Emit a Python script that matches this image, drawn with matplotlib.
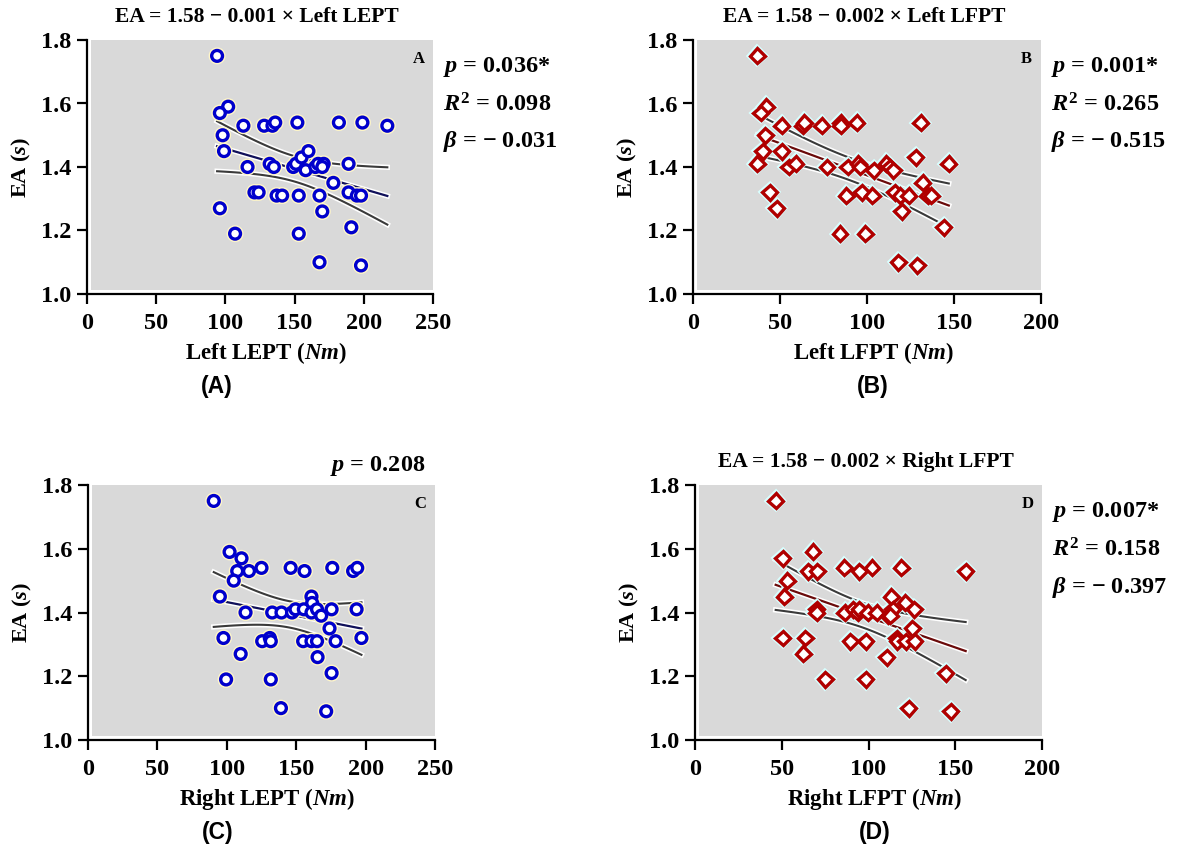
import numpy as np
import matplotlib
matplotlib.use('Agg')
import matplotlib.pyplot as plt
import matplotlib.patheffects as pe
from matplotlib.patches import Rectangle

# ---------------- data ----------------
left_lept = [94, 102, 96, 113, 128, 134, 136, 152, 182, 199, 217, 98, 99, 116, 132, 135,
             149, 151, 155, 160, 158, 165, 167, 171, 170, 189, 178, 121, 124, 137, 141,
             153, 168, 189, 195, 198, 96, 170, 107, 153, 191, 168, 198]
ea_a = [1.75, 1.59, 1.57, 1.53, 1.53, 1.53, 1.54, 1.54, 1.54, 1.54, 1.53, 1.50, 1.45, 1.40,
        1.41, 1.40, 1.40, 1.41, 1.43, 1.45, 1.39, 1.40, 1.41, 1.41, 1.40, 1.41, 1.35, 1.32,
        1.32, 1.31, 1.31, 1.31, 1.31, 1.32, 1.31, 1.31, 1.27, 1.26, 1.19, 1.19, 1.21, 1.10, 1.09]

left_lfpt = [37, 42, 39, 51, 63, 64, 74, 85, 85, 94, 131, 41.5, 40, 51, 37, 55, 59, 77, 89,
             95, 96, 104, 111, 113, 115, 128, 147, 132, 44, 88, 97, 103, 116, 119, 124, 135,
             137, 48, 120, 84.5, 99, 144, 118, 129]
ea_b = [1.75, 1.59, 1.57, 1.53, 1.53, 1.54, 1.53, 1.54, 1.53, 1.54, 1.54, 1.50, 1.45, 1.45,
        1.41, 1.40, 1.41, 1.40, 1.40, 1.41, 1.40, 1.39, 1.41, 1.40, 1.39, 1.43, 1.41, 1.35,
        1.32, 1.31, 1.32, 1.31, 1.32, 1.31, 1.31, 1.31, 1.31, 1.27, 1.26, 1.19, 1.19, 1.21,
        1.10, 1.09]

right_lept = [90.6, 102, 110.6, 107.5, 116, 125, 146, 156, 176, 191, 194, 105, 95, 113.5,
              132.7, 139.4, 147, 149.5, 155.5, 161, 161.5, 161, 165, 168, 175.5, 193.5, 174,
              97.6, 125.5, 131, 131.7, 155, 161, 165, 178.4, 197, 110, 165.4, 99.5, 131.7,
              175.5, 139, 171.6]
ea_c = [1.75, 1.59, 1.57, 1.53, 1.53, 1.54, 1.54, 1.53, 1.54, 1.53, 1.54, 1.50, 1.45, 1.40,
        1.40, 1.40, 1.40, 1.41, 1.41, 1.45, 1.43, 1.40, 1.41, 1.39, 1.41, 1.41, 1.35, 1.32,
        1.31, 1.32, 1.31, 1.31, 1.31, 1.31, 1.31, 1.32, 1.27, 1.26, 1.19, 1.19, 1.21, 1.10,
        1.09]

right_lfpt = [46.5, 68, 50.6, 65.4, 70.6, 86, 94.6, 102, 119, 156, 53.3, 51.5, 113, 121.3,
              70.2, 70.2, 86.2, 91.3, 93.7, 94.8, 99.6, 104.8, 114, 111.3, 112.5, 126.5,
              125.2, 50.6, 63.5, 89.4, 98.3, 116.3, 116.7, 121.5, 126.7, 62.5, 110.6, 75.2,
              98.5, 144.4, 123.3, 147.5]
ea_d = [1.75, 1.59, 1.57, 1.53, 1.53, 1.54, 1.53, 1.54, 1.54, 1.53, 1.50, 1.45, 1.45, 1.43,
        1.41, 1.40, 1.40, 1.41, 1.40, 1.41, 1.40, 1.40, 1.41, 1.39, 1.39, 1.41, 1.35, 1.32,
        1.32, 1.31, 1.31, 1.32, 1.31, 1.31, 1.31, 1.27, 1.26, 1.19, 1.19, 1.21, 1.10, 1.09]

titles = ["EA = 1.58 \u2212 0.001 \u00d7 Left LEPT", "EA = 1.58 \u2212 0.002 \u00d7 Left LFPT",
          None, "EA = 1.58 \u2212 0.002 \u00d7 Right LFPT"]
stats = [[r"$p$ = 0.036*", r"$R^{\mathit{2}}$ = 0.098", "$\u03b2$ = \u2212 0.031"],
         [r"$p$ = 0.001*", r"$R^{\mathit{2}}$ = 0.265", "$\u03b2$ = \u2212 0.515"],
         [r"$p$ = 0.208"],
         [r"$p$ = 0.007*", r"$R^{\mathit{2}}$ = 0.158", "$\u03b2$ = \u2212 0.397"]]
xlabels = [r"Left LEPT ($Nm$)", r"Left LFPT ($Nm$)", r"Right LEPT ($Nm$)", r"Right LFPT ($Nm$)"]
letters = ["A", "B", "C", "D"]
xmaxes = [250, 200, 250, 200]
xticks_list = [[0, 50, 100, 150, 200, 250], [0, 50, 100, 150, 200],
               [0, 50, 100, 150, 200, 250], [0, 50, 100, 150, 200]]
yticks = [1.0, 1.2, 1.4, 1.6, 1.8]

# ---------------- style ----------------
W, H = 1181, 863
plt.rcParams['font.family'] = ['Liberation Serif', 'DejaVu Serif']
plt.rcParams['font.weight'] = 'bold'
plt.rcParams['mathtext.fontset'] = 'custom'
plt.rcParams['mathtext.rm'] = 'Liberation Serif:bold'
plt.rcParams['mathtext.it'] = 'Liberation Serif:italic:bold'
plt.rcParams['mathtext.bf'] = 'Liberation Serif:bold'

fig = plt.figure(figsize=(W / 100, H / 100), dpi=100)
fig.patch.set_facecolor('white')

def fx(px):
    return px / W

def fy(py):
    return 1 - py / H

# axes boxes in pixel coordinates: left, top, right, bottom
boxes = [(87, 40, 433, 294), (693, 40, 1041, 294), (88, 485, 435, 740), (695, 485, 1042, 740)]
datasets = [(left_lept, ea_a), (left_lfpt, ea_b), (right_lept, ea_c), (right_lfpt, ea_d)]
marker_styles = [('o', '#0000cc', '#fff6c8', '#10105a'), ('D', '#b00000', '#d8ffff', '#6a0a0a'),
                 ('o', '#0000cc', '#fff6c8', '#10105a'), ('D', '#b00000', '#d8ffff', '#6a0a0a')]

def fit_band(x, y):
    x = np.asarray(x, float)
    y = np.asarray(y, float)
    n = len(x)
    b, a = np.polyfit(x, y, 1)
    xs = np.linspace(x.min(), x.max(), 120)
    yh = a + b * xs
    resid = y - (a + b * x)
    s = np.sqrt(np.sum(resid ** 2) / (n - 2))
    sxx = np.sum((x - x.mean()) ** 2)
    se = s * np.sqrt(1.0 / n + (xs - x.mean()) ** 2 / sxx)
    t = 2.02
    return xs, yh, yh - t * se, yh + t * se

halo = [pe.Stroke(linewidth=3.8, foreground='white'), pe.Normal()]

for i in range(4):
    l, t, r, b = boxes[i]
    ax = fig.add_axes([fx(l), fy(b), fx(r) - fx(l), (b - t) / H])
    ax.set_facecolor('white')
    ax.add_patch(Rectangle((0.012, 0.014), 0.988, 0.986, transform=ax.transAxes,
                           facecolor='#d9d9d9', edgecolor='none', zorder=0))
    x, y = datasets[i]
    mk, col, hcol, lcol = marker_styles[i]
    xs, yh, lo, hi = fit_band(x, y)
    ax.plot(xs, lo, color='#3a3a3a', lw=1.5, path_effects=halo, zorder=2)
    ax.plot(xs, hi, color='#3a3a3a', lw=1.5, path_effects=halo, zorder=2)
    ax.plot(xs, yh, color=lcol, lw=1.6, path_effects=halo, zorder=2)
    ms = 7.8 if mk == 'o' else 7.6
    ax.plot(x, y, linestyle='none', marker=mk, ms=ms, mfc='white', mec=col, mew=2.4,
            zorder=3,
            path_effects=[pe.Stroke(linewidth=4.4, foreground=hcol), pe.Normal()])
    ax.set_xlim(0, xmaxes[i])
    ax.set_ylim(1.0, 1.8)
    ax.set_xticks(xticks_list[i])
    ax.set_yticks(yticks)
    ax.set_yticklabels([f"{v:.1f}" for v in yticks])
    for sname in ['top', 'right']:
        ax.spines[sname].set_visible(False)
    for sname in ['left', 'bottom']:
        ax.spines[sname].set_linewidth(1.6)
        ax.spines[sname].set_color('black')
    ax.tick_params(axis='both', direction='out', length=7, width=1.6, labelsize=17.5)
    ax.tick_params(axis='x', pad=7)
    ax.tick_params(axis='y', pad=4)
    for lab in ax.get_xticklabels() + ax.get_yticklabels():
        lab.set_fontweight('bold')
    ax.text(0.958, 0.925, letters[i], transform=ax.transAxes, ha='center', va='center',
            fontsize=12, fontweight='bold')

    cx = (l + r) / 2
    # title
    if titles[i]:
        fig.text(fx(cx - 3), fy(t - 23), titles[i], ha='center', va='center', fontsize=15.5)
    # x label
    fig.text(fx(cx + 6), fy(b + 59), xlabels[i], ha='center', va='center', fontsize=16.5)
    # panel label
    fig.text(fx(l + 130 if i % 2 == 0 else l + 180), fy(b + 92), f"({letters[i]})",
             ha='center', va='center', fontsize=16.5, family='Liberation Sans',
             fontweight='bold')
    # y label
    fig.text(fx(l - 66), fy((t + b) / 2), r"EA ($s$)", rotation=90, ha='center',
             va='center', fontsize=16)
    # stats
    if i == 2:
        fig.text(fx(378), fy(466), stats[i][0], ha='center', va='center', fontsize=17.5)
    else:
        sx = r + 10
        for k, s in enumerate(stats[i]):
            fig.text(fx(sx), fy(t + 27 + 37.5 * k), s, ha='left', va='center', fontsize=17.5)

fig.savefig('out.png', dpi=100, facecolor='white')
